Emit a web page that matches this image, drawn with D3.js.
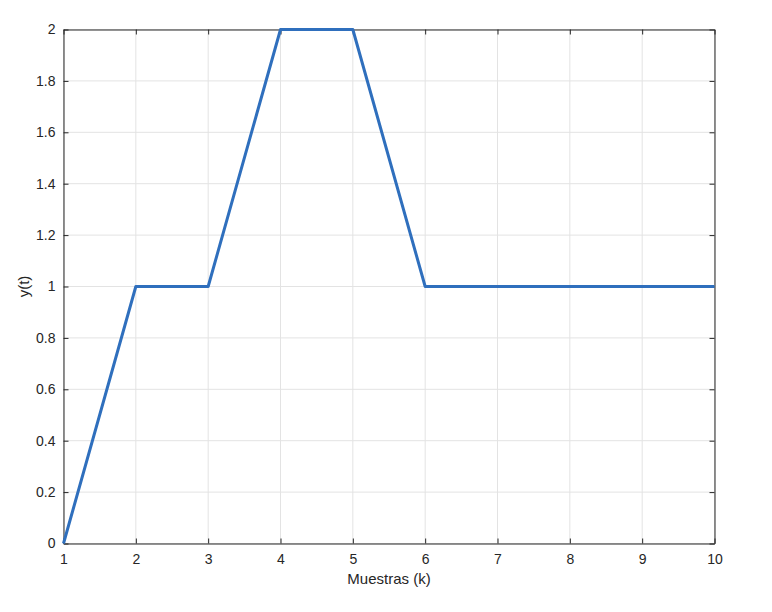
<!DOCTYPE html>
<html>
<head>
<meta charset="utf-8">
<script src="https://cdn.jsdelivr.net/npm/d3@7"></script>
<style>
  body { margin: 0; background: #fff; }
  text { font-family: "Liberation Sans", Arial, sans-serif; fill: #262626; }
</style>
</head>
<body>
<div id="chart"></div>
<script>
// data
const samples = [1, 2, 3, 4, 5, 6, 7, 8, 9, 10];
const output = [0, 1, 1, 2, 2, 1, 1, 1, 1, 1];
const xTicks = [1, 2, 3, 4, 5, 6, 7, 8, 9, 10];
const yTicks = [0, 0.2, 0.4, 0.6, 0.8, 1, 1.2, 1.4, 1.6, 1.8, 2];

const w = 772;
const h = 612;
const padL = 63.5, padR = 714.5, padT = 29.5, padB = 543.5;

const svg = d3.select('#chart')
    .append('svg')
    .attr('width', w)
    .attr('height', h);

const xScale = d3.scaleLinear().domain([1, 10]).range([padL, padR]);
const yScale = d3.scaleLinear().domain([0, 2]).range([padB, padT]);

// grid
svg.append('g')
    .selectAll('line')
    .data(xTicks)
    .enter()
    .append('line')
    .attr('x1', d => xScale(d)).attr('x2', d => xScale(d))
    .attr('y1', padT).attr('y2', padB)
    .attr('stroke', '#e3e3e3').attr('stroke-width', 1);
svg.append('g')
    .selectAll('line')
    .data(yTicks)
    .enter()
    .append('line')
    .attr('x1', padL).attr('x2', padR)
    .attr('y1', d => yScale(d)).attr('y2', d => yScale(d))
    .attr('stroke', '#e3e3e3').attr('stroke-width', 1);

// axes (ticks pointing inward)
const fmt = d => String(+d.toFixed(1));
const xAxis = d3.axisBottom(xScale).tickValues(xTicks).tickSizeInner(-5).tickSizeOuter(0).tickPadding(11).tickFormat(fmt);
const yAxis = d3.axisLeft(yScale).tickValues(yTicks).tickSizeInner(-5).tickSizeOuter(0).tickPadding(8).tickFormat(fmt);
const xTop = d3.axisTop(xScale).tickValues(xTicks).tickSizeInner(-5).tickSizeOuter(0).tickFormat('');
const yRight = d3.axisRight(yScale).tickValues(yTicks).tickSizeInner(-5).tickSizeOuter(0).tickFormat('');

function style(g) {
    g.selectAll('path').attr('stroke', '#262626').attr('stroke-width', 1);
    g.selectAll('line').attr('stroke', '#262626').attr('stroke-width', 1);
    g.selectAll('text').attr('font-size', 14).attr('fill', '#262626')
        .attr('font-family', '"Liberation Sans", Arial, sans-serif');
}

svg.append('g').attr('transform', `translate(0, ${padB})`).call(xAxis).call(style);
svg.append('g').attr('transform', `translate(${padL}, 0)`).call(yAxis).call(style);
svg.append('g').attr('transform', `translate(0, ${padT})`).call(xTop).call(style);
svg.append('g').attr('transform', `translate(${padR}, 0)`).call(yRight).call(style);

// line
const line = d3.line()
    .x((d, i) => xScale(samples[i]))
    .y(d => yScale(d));
svg.append('path')
    .datum(output)
    .attr('d', line)
    .attr('fill', 'none')
    .attr('stroke', '#2f6fbd')
    .attr('stroke-width', 3)
    .attr('stroke-linejoin', 'round');

// labels
svg.append('text')
    .text('Muestras (k)')
    .attr('x', (padL + padR) / 2)
    .attr('y', 584)
    .attr('text-anchor', 'middle')
    .attr('font-size', 15);
svg.append('text')
    .text('y(t)')
    .attr('transform', `translate(29, ${(padT + padB) / 2}) rotate(-90)`)
    .attr('text-anchor', 'middle')
    .attr('font-size', 15);
</script>
</body>
</html>
